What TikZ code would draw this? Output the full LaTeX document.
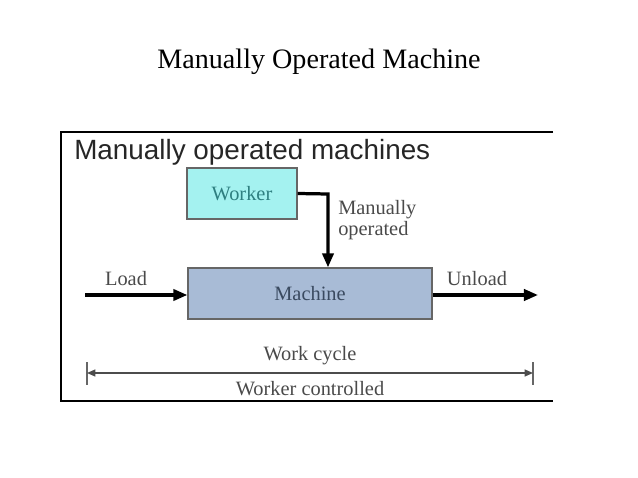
\documentclass[tikz,border=0pt]{standalone}
\usepackage{fontspec}
\setmainfont{Liberation Serif}
\newfontfamily\headfont{Liberation Sans}
\usetikzlibrary{arrows.meta}
\definecolor{workerfill}{HTML}{A4F2F0}
\definecolor{workertext}{HTML}{2E7F80}
\definecolor{machinefill}{HTML}{A8BBD6}
\definecolor{machinetext}{HTML}{3A4A60}
\definecolor{labelgray}{HTML}{4A4A4A}
\tikzset{
  block/.style={draw=black!60,line width=0.9pt,minimum width=110*0.025cm,minimum height=51*0.025cm,inner sep=0pt},
  flow/.style={line width=2.3pt,-{Triangle[length=10pt,width=8pt]}},
  lbl/.style={text=labelgray,font=\fontsize{14.5}{14}\selectfont,inner sep=0pt,align=left}
}
\begin{document}
\begin{tikzpicture}[x=0.025cm,y=-0.025cm,line cap=butt,line join=miter]
\useasboundingbox (0,0) rectangle (638,478);

% ---- slide title ----
\node[font=\fontsize{20}{22}\selectfont] (title) at (319,62) {Manually Operated Machine};

% ---- frame (open on the right) ----
\draw[line width=1.2pt] (553,132) -- (61,132) -- (61,401) -- (553,401);
\node[anchor=west,font=\headfont\fontsize{19.8}{22}\selectfont,inner sep=0pt,text=black!85] (head) at (74,152) {Manually operated machines};

% ---- blocks ----
\node[block,fill=workerfill,text=workertext,font=\fontsize{14.5}{14}\selectfont] (worker) at (242,193.5) {Worker};
\node[block,fill=machinefill,text=machinetext,minimum width=244*0.025cm,font=\fontsize{14.5}{14}\selectfont] (machine) at (310,293.5) {Machine};

% ---- worker acts on machine ----
\coordinate (bend) at (328,194);
\draw[flow] (worker.east) -- (bend) -- (bend |- machine.north);
\node[lbl,anchor=north west] (manual) at (338,200) {Manually\\[1pt]operated};

% ---- load / unload ----
\coordinate (in) at (85,295);
\coordinate (out) at (538,295);
\draw[flow] (in) -- (in -| machine.west);
\draw[flow] (machine.east |- out) -- (out);
\node[lbl] (load) at (126,279) {Load};
\node[lbl] (unload) at (477,279) {Unload};

% ---- work cycle span ----
\coordinate (cl) at (87,373);
\coordinate (cr) at (533,373);
\draw[black!60,line width=0.8pt] (cl) ++(0,-11) -- ++(0,23);
\draw[black!60,line width=0.8pt] (cr) ++(0,-11) -- ++(0,23);
\draw[black!70,line width=1pt,{Triangle[length=6pt,width=5pt]}-{Triangle[length=6pt,width=5pt]}] (cl) -- (cr);
\node[lbl] (cycle) at (310,356) {Work cycle};
\node[lbl] (ctrl) at (310,389) {Worker controlled};

\end{tikzpicture}
\end{document}
